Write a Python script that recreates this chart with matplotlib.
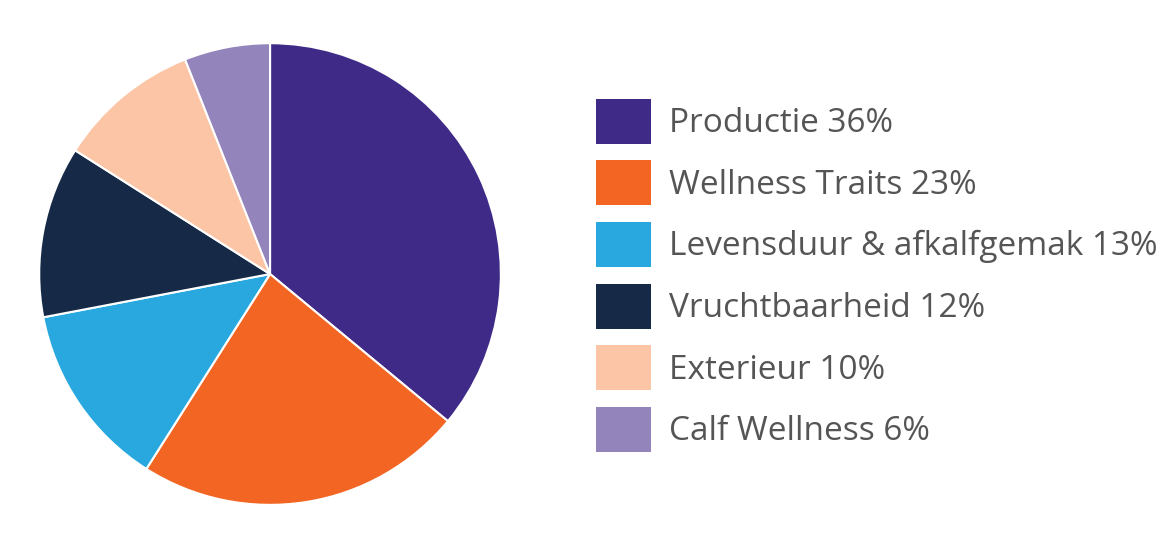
import matplotlib.pyplot as plt

labels = ["Productie", "Wellness Traits", "Levensduur & afkalfgemak",
          "Vruchtbaarheid", "Exterieur", "Calf Wellness"]
values = [36, 23, 13, 12, 10, 6]
colors = ["#3f2a87", "#f26522", "#29a8e0", "#162a47", "#fcc5a6", "#9484bc"]

plt.rcParams['font.family'] = ['Open Sans', 'DejaVu Sans']

fig = plt.figure(figsize=(11.67, 5.37), dpi=100)
ax = fig.add_axes([0.0326, 0.0577, 0.3976, 0.864])
wedges, _ = ax.pie(values, colors=colors, startangle=90, counterclock=False,
                   wedgeprops=dict(edgecolor='white', linewidth=1.5))
ax.set_xlim(-1.005, 1.005)
ax.set_ylim(-1.005, 1.005)
ax.set_aspect('equal')

leg_labels = [f"{l} {v}%" for l, v in zip(labels, values)]
leg = fig.legend(wedges, leg_labels, loc='center left',
                 bbox_to_anchor=(566 / 1167, 0.487), frameon=False,
                 fontsize=24, handlelength=1.65, handleheight=1.7,
                 labelspacing=0.5, handletextpad=0.55)
for t in leg.get_texts():
    t.set_color('#555555')
for h in leg.legend_handles:
    h.set_edgecolor('none')

fig.savefig('out.png', dpi=100)
